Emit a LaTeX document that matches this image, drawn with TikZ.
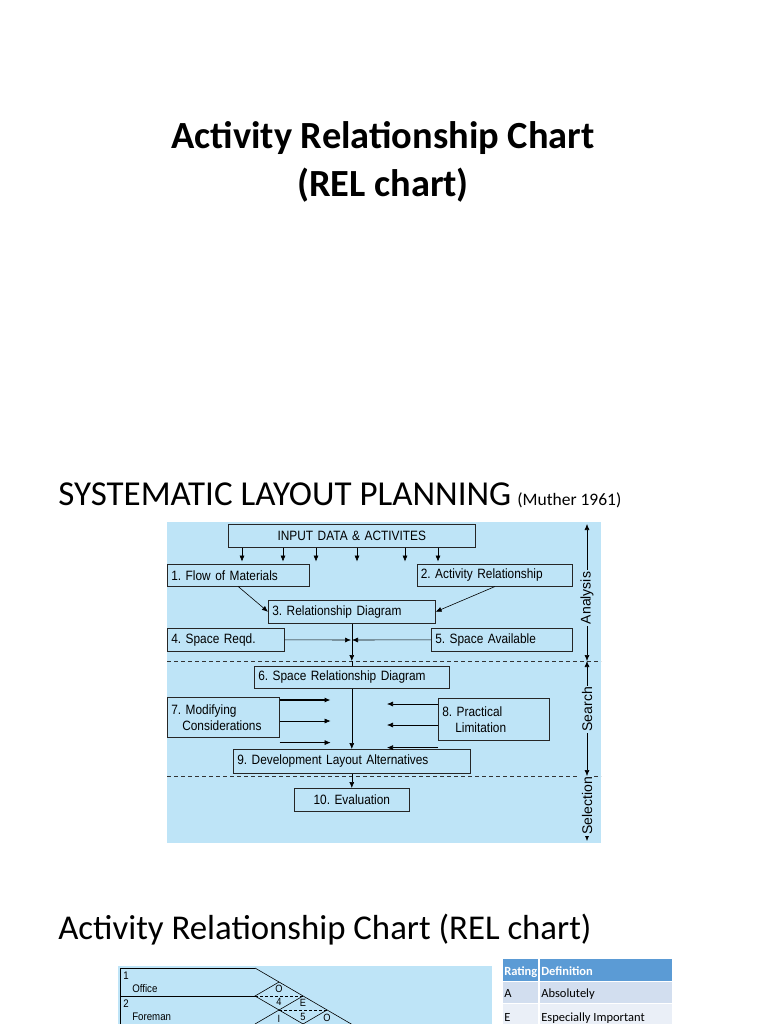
\documentclass[tikz,border=0pt]{standalone}
\usepackage{fontspec}
\setmainfont{Carlito}
\newfontfamily\arialfont[FakeStretch=0.88]{Liberation Sans}
\newfontfamily\axisfont{Liberation Sans}
\usepackage{tikz}
\usetikzlibrary{arrows}
\usetikzlibrary{arrows.meta}
\usetikzlibrary{positioning}
\definecolor{slpblue}{RGB}{190,228,247}
\definecolor{hdrblue}{RGB}{91,155,213}
\definecolor{rowa}{RGB}{210,222,239}
\definecolor{rowe}{RGB}{234,239,247}
\frenchspacing
\begin{document}
\begin{tikzpicture}[x=1pt,y=-1pt,>={Latex[length=6pt,width=5pt]},line width=0.6pt,
  box/.style={draw=black!85,anchor=north west,inner xsep=4pt,inner ysep=1pt,align=left,font=\arialfont\fontsize{13.5}{16}\selectfont},
  lbl/.style={font=\axisfont\fontsize{14}{16}\selectfont,rotate=90,fill=slpblue,inner sep=1.5pt},
  ltr/.style={font=\arialfont\fontsize{10.5}{11}\selectfont,inner sep=0pt},
  cell/.style={anchor=north west,inner sep=0pt,minimum height=22pt},
  ctext/.style={anchor=base west,inner sep=0pt,font=\fontsize{12.5}{14}\selectfont}]
  \useasboundingbox (0,0) rectangle (768,1024);

  \node[font=\bfseries\fontsize{38.4}{40}\selectfont,anchor=base] (title) at (383,149) {Activity Relationship Chart};
  \node[font=\bfseries\fontsize{38.4}{40}\selectfont,anchor=base] (subtitle) at (383,197) {(REL chart)};
  \node[font=\fontsize{35}{38}\selectfont,anchor=base west,inner sep=0pt] (slp) at (58,505) {SYSTEMATIC LAYOUT PLANNING};
  \node[font=\fontsize{17.5}{19}\selectfont,anchor=base west,inner sep=0pt] (muther) at (517,505) {(Muther 1961)};

  \fill[slpblue] (167,522) rectangle (601,843);

  \node[box,text width=239pt,align=center,minimum height=23pt] (0) at (228,524) {INPUT DATA \& ACTIVITES};
  \node[box,text width=134pt,minimum height=22pt] (1) at (167,564) {1. Flow of Materials};
  \node[box,text width=148pt,inner xsep=3.5pt,minimum height=22pt] (2) at (417,564) {2. Activity Relationship};
  \node[box,text width=159pt,minimum height=23pt] (3) at (268,600) {3. Relationship Diagram};
  \node[box,text width=109pt,minimum height=23pt] (4) at (167,628) {4. Space Reqd.};
  \node[box,text width=133pt,minimum height=23pt] (5) at (431,628) {5. Space Available};
  \node[box,text width=187pt,minimum height=22pt] (6) at (254,666) {6. Space Relationship Diagram};
  \node[box,text width=104pt,minimum height=40pt] (7) at (167,697) {7. Modifying\\\hspace*{11pt}Considerations};
  \node[box,text width=103pt,minimum height=42pt] (8) at (438,698) {8. Practical\\\hspace*{13pt}Limitation};
  \node[box,text width=229pt,minimum height=24pt] (9) at (233,749) {9. Development Layout Alternatives};
  \node[box,text width=107pt,align=center,minimum height=23pt] (10) at (294,788) {10. Evaluation};

  \coordinate (d1w) at (167,661);
  \coordinate (d1e) at (601,661);
  \coordinate (d2w) at (167,776);
  \coordinate (d2e) at (601,776);
  \coordinate (m4) at (351,640);
  \coordinate (m5) at (352,640);
  \coordinate (a0) at (587,524);
  \coordinate (a1) at (587,661);
  \coordinate (a2) at (587,776);
  \coordinate (a3) at (587,841);

  \draw[dashed,dash pattern=on 4pt off 3pt,black!80] (d1w) -- (d1e);
  \draw[dashed,dash pattern=on 4pt off 3pt,black!80] (d2w) -- (d2e);

  \foreach \x in {242,283,316,357,405,438}
    \draw[->] (0.south -| \x,0) -- ++(0,14);
  \draw[->] (1.south) -- (3.west);
  \draw[->] (2.south) -- (3.east);
  \draw[->] (3.south) -- (3.south |- d1w);
  \draw (3.south |- d1w) -- (6.north);
  \draw[->] (4.east) -- (m4);
  \draw[->] (5.west) -- (m5);
  \draw[->] (6.south) -- (9.north);
  \draw[->] (9.south) -- (10.north);
  \draw[->,line width=1.3pt] ([yshift=-3pt]7.north east) -- ++(51,0);
  \draw[->] ([yshift=-24pt]7.north east) -- ++(51,0);
  \draw[->] ([yshift=-5pt]7.south east) -- ++(51,0);
  \draw[->] ([yshift=-6pt]8.north west) -- ++(-51,0);
  \draw[->] ([yshift=-27pt]8.north west) -- ++(-51,0);
  \draw[->] ([yshift=-7pt]8.south west) -- ++(-51,0);

  \draw[<->] (a0) -- node[lbl,pos=0.54] (ana) {Analysis} (a1);
  \draw[<->] (a1) -- node[lbl,pos=0.42] (sea) {Search} (a2);
  \draw[<->] (a2) -- node[lbl,pos=0.46] (sel) {Selection} (a3);

  \node[font=\fontsize{34.8}{37}\selectfont,anchor=base west,inner sep=0pt] (relhead) at (58,939) {Activity Relationship Chart (REL chart)};

  \fill[slpblue] (118,966) rectangle (492,1024);
  \draw (255,968) -- (120,968) -- (120,1030);
  \draw (120,996) -- (255,996);
  \draw (120,1024) -- (255,1024);
  \draw (255,968) -- (365,1032);
  \draw (279,982) -- (255,996) -- (310,1028);
  \draw (255,1024) -- (303,996);
  \draw (303,1024) -- (327,1010);
  \draw[dashed,dash pattern=on 3pt off 2pt] (255,996) -- (303,996);
  \draw[dashed,dash pattern=on 3pt off 2pt] (279,1010) -- (327,1010);
  \draw[dashed,dash pattern=on 3pt off 2pt] (255,1024) -- (351,1024);
  \node[ltr] (o12) at (279,989) {O};
  \node[ltr] (c12) at (279,1002) {4};
  \node[ltr] (e13) at (303,1003) {E};
  \node[ltr] (c13) at (303,1017) {5};
  \node[ltr] (o14) at (327,1018) {O};
  \node[ltr] (i23) at (279,1019) {I};
  \node[font=\arialfont\fontsize{11}{12}\selectfont,anchor=base west,inner sep=0pt] (r1) at (123,979) {1};
  \node[font=\arialfont\fontsize{11}{12}\selectfont,anchor=base west,inner sep=0pt] (r1t) at (132,992) {Office};
  \node[font=\arialfont\fontsize{11}{12}\selectfont,anchor=base west,inner sep=0pt] (r2) at (123,1007) {2};
  \node[font=\arialfont\fontsize{11}{12}\selectfont,anchor=base west,inner sep=0pt] (r2t) at (132,1020) {Foreman};

  \node[cell,fill=hdrblue,minimum width=35pt] (h1) at (503,959) {};
  \node[cell,fill=hdrblue,minimum width=132pt] (h2) at (540,959) {};
  \node[cell,fill=rowa,minimum width=35pt,minimum height=21pt] (a11) at (503,982) {};
  \node[cell,fill=rowa,minimum width=132pt,minimum height=21pt] (a12) at (540,982) {};
  \node[cell,fill=rowe,minimum width=35pt] (e11) at (503,1004) {};
  \node[cell,fill=rowe,minimum width=132pt] (e12) at (540,1004) {};
  \node[ctext,text=white,font=\bfseries\fontsize{12.5}{14}\selectfont] (rating) at (504,975) {Rating};
  \node[ctext,text=white,font=\bfseries\fontsize{12.5}{14}\selectfont] (defn) at (541,975) {Definition};
  \node[ctext] (ra) at (504,997) {A};
  \node[ctext] (da) at (541,997) {Absolutely};
  \node[ctext] (re) at (504,1021) {E};
  \node[ctext] (de) at (541,1021) {Especially Important};
\end{tikzpicture}
\end{document}
